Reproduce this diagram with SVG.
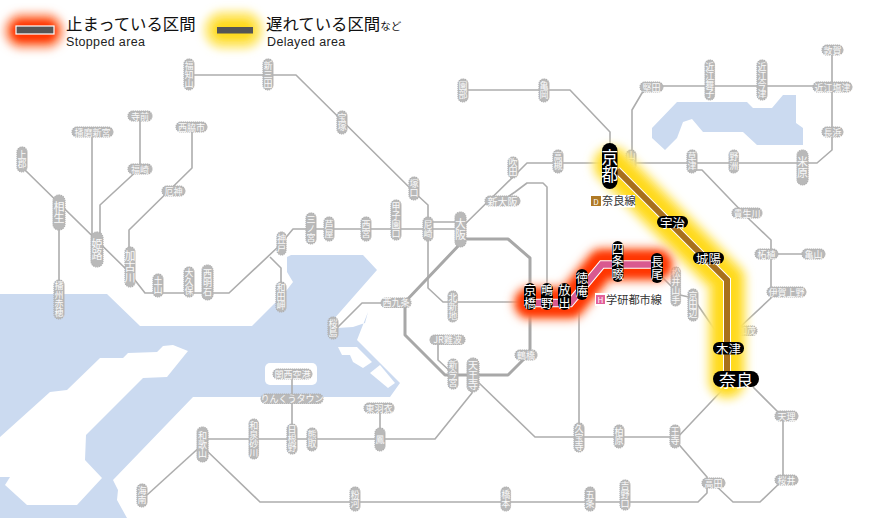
<svg xmlns="http://www.w3.org/2000/svg" width="870" height="518" viewBox="0 0 870 518">
<style>
text{font-family:"Noto Sans CJK JP","Noto Sans",sans-serif}
.w{fill:#cbdaf0;stroke:none}
.l{fill:#fff;stroke:none}
.c{fill:none;stroke:#adadad;stroke-width:1.6;stroke-linejoin:round}
.t{fill:none;stroke:#a8a8a8;stroke-width:3;stroke-linejoin:round}
.st{fill:#b9b9b9;stroke:#b0b0b0;stroke-width:1.2;stroke-dasharray:1.3 .7}
.g text{fill:#fafafa;font-size:9px;text-anchor:middle;dominant-baseline:central}
.g text.v{writing-mode:vertical-rl;text-orientation:upright}
.g text.b{font-size:11px}
.g text.m{font-size:10px}
.a rect{fill:#000;stroke:none}
.a text{fill:#fff;font-size:12.5px;text-anchor:middle;dominant-baseline:central}
.a text.v{writing-mode:vertical-rl;text-orientation:upright}
.a text.big{font-size:17px}
.glow{fill:none;stroke-linecap:round;stroke-linejoin:round}
.ro{stroke:#ff9a70;stroke-width:36;filter:url(#b4)}
.rc{stroke:#ff3500;stroke-width:26;filter:url(#b3)}
.yo{stroke:#ffe872;stroke-width:40;filter:url(#b4)}
.yc{stroke:#ffda1e;stroke-width:26;filter:url(#b3)}
.lro{stroke-width:36}
.lrc{stroke-width:22}
.lyo{stroke-width:38}
.lyc{stroke-width:20}
.lg{font-size:16.4px;fill:#111}
.en{font-size:12.5px;letter-spacing:.35px;fill:#222;font-family:"Liberation Sans",sans-serif}
.tag{font-size:11.2px;fill:#333}
.tt{font-size:8px;fill:#fff;text-anchor:middle;dominant-baseline:central}
</style>
<defs>
<filter id="b3" filterUnits="userSpaceOnUse" x="0" y="0" width="870" height="518"><feGaussianBlur stdDeviation="3"/></filter>
<filter id="b4" filterUnits="userSpaceOnUse" x="0" y="0" width="870" height="518"><feGaussianBlur stdDeviation="4"/></filter>
</defs>
<rect width="870" height="518" fill="#fff"/>

<g id="water">
<path class="w" d="M0 294H107L140 326H252L283 295L293 282L287 272V257L291 255H363L377 270L333 320L337 328L353 327L365 323L368 312L357 340L400 383L390 397H193L113 480L118 490L117 500L127 518H0Z"/>
<path class="l" d="M188 351L173 345L163 346L157 352L128 353L123 358L100 358L67 390L50 392L0 437V477H10L5 485L27 505H77L102 478L85 460L86 435L143 378L167 377Z"/>
<rect class="l" x="265" y="363" width="52" height="22" rx="5"/>
<path class="l" d="M338 347H357L372 362L363 368L353 362L350 355H342Z"/>
<path class="l" d="M380 365L395 383L388 388L370 373Z"/>
<path class="w" d="M652 128L677 102H747L753 108H772L783 95H796V123L803 128V145H757L743 132H703L692 119L683 122L677 138L665 150L652 138Z"/>
</g>

<g id="connectors">
<path class="c" d="M189 75H296L415 193L428 205V288L443 302H530"/>
<path class="c" d="M278 247L293 229H461M428 222H461"/>
<path class="c" d="M25 170L127 270L145 293H229L278 247"/>
<path class="c" d="M270 257L281 268V290"/>
<path class="c" d="M59 212V300"/>
<path class="c" d="M92 132V240"/>
<path class="c" d="M100 240V205L140 168V116"/>
<path class="c" d="M129 260V230L192 168V126"/>
<path class="t" d="M461 239H508L530 258V353L508 375H445L405 335V302L461 243"/>
<path class="c" d="M396 303H362L333 332"/>
<path class="c" d="M447 339H438V360L452 373"/>
<path class="c" d="M472 375V393L435 439H202"/>
<path class="c" d="M478 382L535 437H675"/>
<path class="c" d="M202 445L147 495"/>
<path class="c" d="M205 449L260 502H698L707 493V477L675 440"/>
<path class="c" d="M675 440L727 385M753 387L778 412L786 416M783 416V480L760 502H733L713 483"/>
<path class="c" d="M579 296V445"/>
<path class="c" d="M292 373V439"/>
<path class="c" d="M380 408V439"/>
<path class="c" d="M740 327L771 298V240L750 220L702 170H692"/>
<path class="c" d="M771 254H813"/>
<path class="c" d="M655 270L680 295L693 298L715 330"/>
<path class="c" d="M461 228L513 177L527 163H817L832 150V50"/>
<path class="c" d="M651 86H832M651 86L642 93L632 110V160"/>
<path class="c" d="M463 90H570L610 132V150"/>
<path class="c" d="M502 201L515 192L527 183H543L547 187V290"/>
</g>

<g id="stations" class="g">
<g id="fukuchiyama"><rect class="st" x="184" y="59" width="10" height="31" rx="5"/><text class="v" x="189" y="74.5">福知山</text></g>
<g id="shinsanda"><rect class="st" x="263" y="59" width="10" height="31" rx="5"/><text class="v" x="268" y="74.5">新三田</text></g>
<g id="takarazuka"><rect class="st" x="337" y="111" width="10" height="23" rx="5"/><text class="v" x="342" y="122.5">宝塚</text></g>
<g id="tsukaguchi"><rect class="st" x="409" y="177" width="10" height="23" rx="5"/><text class="v" x="414" y="188.5">塚口</text></g>
<g id="sannomiya"><rect class="st" x="306" y="213" width="10" height="31" rx="5"/><text class="v" x="311" y="228.5">三ノ宮</text></g>
<g id="ashiya"><rect class="st" x="324" y="217" width="10" height="24" rx="5"/><text class="v" x="329" y="229">芦屋</text></g>
<g id="nishinomiya"><rect class="st" x="361" y="217" width="10" height="24" rx="5"/><text class="v" x="366" y="229">西宮</text></g>
<g id="koshienguchi"><rect class="st" x="391" y="200" width="10" height="40" rx="5"/><text class="v" x="396" y="220">甲子園口</text></g>
<g id="amagasaki"><rect class="st" x="423" y="217" width="10" height="24" rx="5"/><text class="v" x="428" y="229">尼崎</text></g>
<g id="kobe"><rect class="st" x="277" y="232" width="9" height="23" rx="4.5"/><text class="v" x="281.5" y="243.5">神戸</text></g>
<g id="kamigori"><rect class="st" x="17" y="147" width="10" height="25" rx="5"/><text class="v" x="22" y="159.5">上郡</text></g>
<g id="aioi"><rect class="st" x="53" y="195" width="12" height="35" rx="6"/><text class="v b" x="59" y="212.5">相生</text></g>
<g id="harimashingu"><rect class="st" x="72" y="127" width="41" height="10" rx="5"/><text x="92.5" y="132">播磨新宮</text></g>
<g id="teramae"><rect class="st" x="128" y="111" width="24" height="10" rx="5"/><text x="140" y="116">寺前</text></g>
<g id="fukusaki"><rect class="st" x="128" y="164" width="24" height="10" rx="5"/><text x="140" y="169">福崎</text></g>
<g id="nishiwakishi"><rect class="st" x="176" y="122" width="31" height="10" rx="5"/><text x="191.5" y="127">西脇市</text></g>
<g id="yakujin"><rect class="st" x="162" y="186" width="23" height="10" rx="5"/><text x="173.5" y="191">厄神</text></g>
<g id="himeji"><rect class="st" x="91" y="232" width="12" height="35" rx="6"/><text class="v b" x="97" y="249.5">姫路</text></g>
<g id="kakogawa"><rect class="st" x="125" y="247" width="10" height="40" rx="5"/><text class="v b" x="130" y="267">加古川</text></g>
<g id="banshuako"><rect class="st" x="54" y="280" width="10" height="39" rx="5"/><text class="v" x="59" y="299.5">播州赤穂</text></g>
<g id="tsuchiyama"><rect class="st" x="153" y="274" width="10" height="23" rx="5"/><text class="v" x="158" y="285.5">土山</text></g>
<g id="okubo"><rect class="st" x="184" y="267" width="10" height="30" rx="5"/><text class="v" x="189" y="282">大久保</text></g>
<g id="nishiakashi"><rect class="st" x="202" y="265" width="11" height="35" rx="5.5"/><text class="v" x="207.5" y="282.5">西明石</text></g>
<g id="wadamisaki"><rect class="st" x="276" y="282" width="10" height="30" rx="5"/><text class="v" x="281" y="297">和田岬</text></g>
<g id="sakurajima"><rect class="st" x="328" y="317" width="10" height="22" rx="5"/><text class="v" x="333" y="328">桜島</text></g>
<g id="nishikujo"><rect class="st" x="381" y="298" width="30" height="9.5" rx="4.7"/><text x="396" y="302.7">西九条</text></g>
<g id="kankuu"><rect class="st" x="273" y="369" width="39" height="10" rx="5"/><text x="292.5" y="374">関西空港</text></g>
<g id="rinku"><rect class="st" x="261" y="394" width="62" height="9.5" rx="4.7"/><text x="292" y="398.7">りんくうタウン</text></g>
<g id="hineno"><rect class="st" x="287" y="424" width="10" height="30" rx="5"/><text class="v" x="292" y="439">日根野</text></g>
<g id="izumisunagawa"><rect class="st" x="249" y="419" width="9.5" height="40" rx="4.7"/><text class="v" x="253.7" y="439">和泉砂川</text></g>
<g id="kumatori"><rect class="st" x="307" y="428" width="10" height="23" rx="5"/><text class="v" x="312" y="439.5">熊取</text></g>
<g id="wakayama"><rect class="st" x="197" y="427" width="11" height="35" rx="5.5"/><text class="v" x="202.5" y="444.5">和歌山</text></g>
<g id="kainan"><rect class="st" x="137" y="484" width="10" height="23" rx="5"/><text class="v" x="142" y="495.5">海南</text></g>
<g id="otori"><rect class="st" x="375" y="428" width="10" height="23" rx="5"/><text class="v" x="380" y="439.5">鳳</text></g>
<g id="higashihagoromo"><rect class="st" x="364" y="403" width="30" height="10" rx="5"/><text x="379" y="408">東羽衣</text></g>
<g id="kokawa"><rect class="st" x="350" y="487" width="10" height="24" rx="5"/><text class="v" x="355" y="499">粉河</text></g>
<g id="hashimoto"><rect class="st" x="501" y="487" width="9.5" height="24" rx="4.7"/><text class="v" x="505.7" y="499">橋本</text></g>
<g id="gojo"><rect class="st" x="585" y="487" width="10" height="24" rx="5"/><text class="v" x="590" y="499">五条</text></g>
<g id="yoshinoguchi"><rect class="st" x="620" y="480" width="10" height="30" rx="5"/><text class="v" x="625" y="495">吉野口</text></g>
<g id="takada"><rect class="st" x="702" y="478" width="23" height="10" rx="5"/><text x="713.5" y="483">高田</text></g>
<g id="sakurai"><rect class="st" x="775" y="475" width="23" height="10" rx="5"/><text x="786.5" y="480">桜井</text></g>
<g id="tenri"><rect class="st" x="775" y="411" width="23" height="10" rx="5"/><text x="786.5" y="416">天理</text></g>
<g id="oji"><rect class="st" x="670" y="425" width="10" height="23" rx="5"/><text class="v" x="675" y="436.5">王寺</text></g>
<g id="kashiwara"><rect class="st" x="614" y="425" width="10" height="23" rx="5"/><text class="v" x="619" y="436.5">柏原</text></g>
<g id="kyuhoji"><rect class="st" x="574" y="423" width="10" height="29" rx="5"/><text class="v" x="579" y="437.5">久宝寺</text></g>
<g id="tennoji"><rect class="st" x="467" y="358" width="12" height="34" rx="6"/><text class="v m" x="473" y="375">天王寺</text></g>
<g id="shinimamiya"><rect class="st" x="448" y="359" width="10" height="30" rx="5"/><text class="v" x="453" y="374">新今宮</text></g>
<g id="jrnamba"><rect class="st" x="430" y="335" width="35" height="9.5" rx="4.7"/><text x="447.5" y="339.7">JR難波</text></g>
<g id="tsuruhashi"><rect class="st" x="515" y="350" width="22" height="10" rx="5"/><text x="526" y="355">鶴橋</text></g>
<g id="kitashinchi"><rect class="st" x="448" y="291" width="9.5" height="31" rx="4.7"/><text class="v" x="452.7" y="306.5">北新地</text></g>
<g id="osaka"><rect class="st" x="455" y="212" width="11" height="35" rx="5.5"/><text class="v b" x="460.5" y="229.5">大阪</text></g>
<g id="shinosaka"><rect class="st" x="485" y="196" width="35" height="10" rx="5"/><text class="m" x="502.5" y="201">新大阪</text></g>
<g id="suita"><rect class="st" x="508" y="157" width="10" height="21" rx="5"/><text class="v" x="513" y="167.5">吹田</text></g>
<g id="takatsuki"><rect class="st" x="553" y="150" width="10" height="23" rx="5"/><text class="v" x="558" y="161.5">高槻</text></g>
<g id="sonobe"><rect class="st" x="458" y="79" width="10" height="23" rx="5"/><text class="v" x="463" y="90.5">園部</text></g>
<g id="kameoka"><rect class="st" x="539" y="79" width="10" height="23" rx="5"/><text class="v" x="544" y="90.5">亀岡</text></g>
<g id="yamashina"><rect class="st" x="626" y="150" width="10" height="20" rx="5"/><text class="v" x="631" y="160">山科</text></g>
<g id="katata"><rect class="st" x="640" y="82" width="23" height="10" rx="5"/><text x="651.5" y="87">堅田</text></g>
<g id="omimaiko"><rect class="st" x="705" y="60" width="9.5" height="40" rx="4.7"/><text class="v" x="709.7" y="80">近江舞子</text></g>
<g id="omiimazu"><rect class="st" x="757" y="60" width="10" height="40" rx="5"/><text class="v" x="762" y="80">近江今津</text></g>
<g id="omishiotsu"><rect class="st" x="813" y="82" width="39" height="10" rx="5"/><text x="832.5" y="87">近江塩津</text></g>
<g id="tsuruga"><rect class="st" x="822" y="45" width="21" height="10" rx="5"/><text x="832.5" y="50">敦賀</text></g>
<g id="nagahama"><rect class="st" x="822" y="127" width="21" height="10" rx="5"/><text x="832.5" y="132">長浜</text></g>
<g id="kusatsu"><rect class="st" x="687" y="150" width="10" height="23" rx="5"/><text class="v" x="692" y="161.5">草津</text></g>
<g id="yasu"><rect class="st" x="729" y="150" width="9.5" height="23" rx="4.7"/><text class="v" x="733.7" y="161.5">野洲</text></g>
<g id="maibara"><rect class="st" x="797" y="150" width="11" height="35" rx="5.5"/><text class="v b" x="802.5" y="167.5">米原</text></g>
<g id="kibukawa"><rect class="st" x="732" y="208" width="30" height="10" rx="5"/><text x="747" y="213">貴生川</text></g>
<g id="tsuge"><rect class="st" x="755" y="249" width="23" height="10" rx="5"/><text x="766.5" y="254">柘植</text></g>
<g id="kameyama"><rect class="st" x="802" y="249" width="23" height="10" rx="5"/><text x="813.5" y="254">亀山</text></g>
<g id="igaueno"><rect class="st" x="767" y="287" width="39" height="10" rx="5"/><text x="786.5" y="292">伊賀上野</text></g>
<g id="kamo"><rect class="st" x="737" y="326" width="20" height="9.5" rx="4.7"/><text x="747" y="330.7">加茂</text></g>
<g id="matsuiyamate"><rect class="st" x="671" y="267" width="9.5" height="39" rx="4.7"/><text class="v" x="675.7" y="286.5">松井山手</text></g>
<g id="kyotanabe"><rect class="st" x="688" y="289" width="10" height="32" rx="5"/><text class="v" x="693" y="305">京田辺</text></g>
</g>

<g id="active-lines">
<path class="glow yo" d="M612 165L727 280V380"/>
<path class="glow yc" d="M612 165L727 280V380"/>
<path class="glow ro" d="M530 303H570L602 264.5H657"/>
<path class="glow rc" d="M530 303H570L602 264.5H657"/>
<path d="M617 170L727 280V378" fill="none" stroke="#fff" stroke-width="8"/>
<path d="M617 170L727 280V378" fill="none" stroke="#a8701c" stroke-width="6"/>
<path d="M530 303H570L602 264.5H657" fill="none" stroke="#fff" stroke-width="8.5"/>
<path d="M530 303H570L602 264.5H657" fill="none" stroke="#d9598f" stroke-width="6.5"/>
</g>

<g id="active-stations" class="a">
<g id="kyoto"><rect x="602" y="143" width="15.5" height="46" rx="7.7"/><text class="v big" x="609.7" y="166">京都</text></g>
<g id="shijonawate"><rect x="612" y="241" width="11.5" height="41" rx="5.7"/><text class="v" x="617.7" y="261.5">四条畷</text></g>
<g id="nagao"><rect x="651" y="253" width="12" height="30" rx="6"/><text class="v" x="657" y="268">長尾</text></g>
<g id="tokuan"><rect x="576" y="269" width="12" height="31" rx="6"/><text class="v" x="582" y="284.5">徳庵</text></g>
<g id="hanaten"><rect x="558" y="283" width="13" height="27" rx="6.5"/><text class="v" x="564.5" y="296.5">放出</text></g>
<g id="shigino"><rect x="541" y="283" width="12" height="27" rx="6"/><text class="v" x="547" y="296.5">鴫野</text></g>
<g id="kyobashi"><rect x="524" y="283" width="12" height="27" rx="6"/><text class="v" x="530" y="296.5">京橋</text></g>
<g id="uji"><rect x="657" y="216" width="31" height="12" rx="6"/><text x="672.5" y="222">宇治</text></g>
<g id="joyo"><rect x="693" y="252" width="31" height="12" rx="6"/><text x="708.5" y="258">城陽</text></g>
<g id="kizu"><rect x="713" y="342" width="31" height="12.5" rx="6"/><text x="728.5" y="348">木津</text></g>
<g id="nara"><rect x="713" y="371" width="46" height="16" rx="8"/><text class="big" x="736" y="379">奈良</text></g>
</g>

<g id="line-labels">
<g id="nara-line"><rect x="589" y="195" width="46" height="12.5" fill="#fff"/><rect x="591" y="196" width="10" height="10" fill="#b07a25"/><text class="tt" x="596" y="201">D</text><text class="tag" x="602" y="205">奈良線</text></g>
<g id="gakkentoshi-line"><rect x="595" y="293" width="70" height="13" fill="#fff"/><rect x="596" y="295" width="9" height="9" fill="#e2609a"/><text class="tt" x="600.5" y="299.5">H</text><text class="tag" x="606" y="304">学研都市線</text></g>
</g>

<g id="legend">
<path class="glow ro lro" d="M22 31H46"/>
<path class="glow rc lrc" d="M22 31H46"/>
<rect x="16" y="26" width="38" height="8" fill="#555" stroke="#fff" stroke-width="1.2"/>
<text class="lg" x="66" y="30">止まっている区間</text>
<text class="en" x="66" y="46">Stopped area</text>
<path class="glow yo lyo" d="M223 30H244"/>
<path class="glow yc lyc" d="M223 30H244"/>
<rect x="217" y="27" width="36" height="6.5" fill="#555"/>
<text class="lg" x="266" y="30">遅れている区間<tspan font-size="10.5">など</tspan></text>
<text class="en" x="267" y="46">Delayed area</text>
</g>
</svg>
